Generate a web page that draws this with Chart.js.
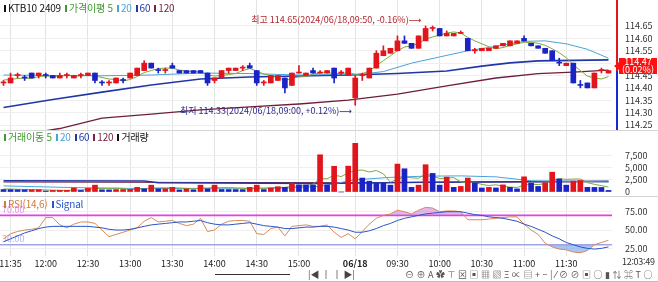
<!DOCTYPE html>
<html lang="ko"><head><meta charset="utf-8">
<script src="https://cdn.jsdelivr.net/npm/chart.js@4.4.1/dist/chart.umd.min.js"></script>
<style>
*{box-sizing:border-box}
html,body{margin:0;padding:0;background:#fff;}
#wrap{position:relative;width:658px;height:282px;overflow:hidden;background:#fff;font-family:"Noto Sans CJK KR","DejaVu Sans",sans-serif;}
canvas{position:absolute;left:0;}
.lg{position:absolute;left:0px;font-size:10px;line-height:12px;white-space:nowrap;letter-spacing:-0.2px}
.lg b{display:inline-block;width:2px;height:7px;margin:0 2px 0 4px;vertical-align:0px}
.sep{position:absolute;left:0;width:658px;height:1px;background:#d4d4d4}
.tb{position:absolute;top:269px;font-size:9px;line-height:12px;color:#444;white-space:nowrap}
</style></head><body>
<div id="wrap">
 <canvas id="cPrice" width="658" height="130" style="top:0;width:658px;height:130px"></canvas>
 <canvas id="cVol" width="658" height="66" style="top:130px;width:658px;height:66px"></canvas>
 <canvas id="cRsi" width="658" height="73" style="top:196px;width:658px;height:73px"></canvas>
 <div class="sep" style="top:130px"></div>
 <div class="sep" style="top:196px"></div>
 <div class="lg" style="top:2px"><b style="background:#111"></b><span style="color:#111">KTB10 2409</span><b style="background:#3f9a2e"></b><span style="color:#3f9a2e">가격이평 5</span><b style="background:#4aa3d8"></b><span style="color:#4aa3d8">20</span><b style="background:#2236a8"></b><span style="color:#2236a8">60</span><b style="background:#7a2245"></b><span style="color:#7a2245">120</span></div>
 <div class="lg" style="top:131px"><b style="background:#3f9a2e"></b><span style="color:#3f9a2e">거래이동 5</span><b style="background:#4aa3d8"></b><span style="color:#4aa3d8">20</span><b style="background:#2236a8"></b><span style="color:#2236a8">60</span><b style="background:#7a2245"></b><span style="color:#7a2245">120</span><b style="background:#111"></b><span style="color:#111">거래량</span></div>
 <div class="lg" style="top:198px"><b style="background:#d2783c"></b><span style="color:#d2783c">RSI(14,6)</span><b style="background:#2a55c8"></b><span style="color:#2a55c8">Signal</span></div>
 <div class="tb" style="left:622px;top:256px;color:#333;letter-spacing:-0.3px">12:03:49</div>
 <div style="position:absolute;left:215px;top:274px;width:75px;height:1px;background:#333"></div>
 <div class="tb" style="left:308px">|◀ ‖&nbsp;‖ ▶|</div>
 <div class="tb" style="left:405px;color:#555">⊖ ⊕ A ✿ ⊤ ⊠ ▣ ▦ ▧ Ξ ∝ ▤ + − | ⁄ ⊘ ⊘ ▣ ○ ▮ ⇅ ⌘ T ○</div>
 <div style="position:absolute;left:0;top:281px;width:658px;height:1px;background:#e6a6c8"></div>
</div>
<script>
// ---------- DATA ----------
const categories = [
"06/17 11:30","06/17 11:35","06/17 11:40","06/17 11:45","06/17 11:50","06/17 11:55","06/17 12:00","06/17 12:05","06/17 12:10","06/17 12:15",
"06/17 12:20","06/17 12:25","06/17 12:30","06/17 12:35","06/17 12:40","06/17 12:45","06/17 12:50","06/17 12:55","06/17 13:00","06/17 13:05",
"06/17 13:10","06/17 13:15","06/17 13:20","06/17 13:25","06/17 13:30","06/17 13:35","06/17 13:40","06/17 13:45","06/17 13:50","06/17 13:55",
"06/17 14:00","06/17 14:05","06/17 14:10","06/17 14:15","06/17 14:20","06/17 14:25","06/17 14:30","06/17 14:35","06/17 14:40","06/17 14:45",
"06/17 14:50","06/17 14:55","06/17 15:00","06/17 15:05","06/17 15:10","06/17 15:15","06/17 15:20","06/17 15:25","06/17 15:30","06/17 15:35",
"06/18 09:00","06/18 09:05","06/18 09:10","06/18 09:15","06/18 09:20","06/18 09:25","06/18 09:30","06/18 09:35","06/18 09:40","06/18 09:45",
"06/18 09:50","06/18 09:55","06/18 10:00","06/18 10:05","06/18 10:10","06/18 10:15","06/18 10:20","06/18 10:25","06/18 10:30","06/18 10:35",
"06/18 10:40","06/18 10:45","06/18 10:50","06/18 10:55","06/18 11:00","06/18 11:05","06/18 11:10","06/18 11:15","06/18 11:20","06/18 11:25",
"06/18 11:30","06/18 11:35","06/18 11:40","06/18 11:45","06/18 11:50","06/18 11:55","06/18 12:00"];

const xTickCats = ["06/17 11:35","06/17 12:00","06/17 12:30","06/17 13:00","06/17 13:30","06/17 14:00","06/17 14:30","06/17 15:00","06/18 09:00","06/18 09:30","06/18 10:00","06/18 10:30","06/18 11:00","06/18 11:30"];
const xTickText = ["11:35","12:00","12:30","13:00","13:30","14:00","14:30","15:00","06/18","09:30","10:00","10:30","11:00","11:30"];

const openP  = [114.42,114.42,114.45,114.44,114.46,114.45,114.45,114.45,114.44,114.45,114.44,114.45,114.45,114.46,114.42,114.42,114.42,114.43,114.44,114.45,
114.47,114.50,114.47,114.47,114.49,114.47,114.47,114.47,114.47,114.46,114.43,114.44,114.47,114.47,114.48,114.49,114.47,114.42,114.42,114.43,
114.44,114.41,114.46,114.45,114.47,114.46,114.46,114.48,114.46,114.45,
114.36,114.45,114.44,114.48,114.53,114.54,114.55,114.59,114.58,114.56,114.59,114.64,114.64,114.61,114.61,114.62,114.60,114.55,114.55,114.55,
114.56,114.57,114.57,114.58,114.60,114.58,114.57,114.56,114.55,114.50,114.49,114.50,114.41,114.42,114.40,114.47,114.46];
const highP  = [114.43,114.46,114.46,114.45,114.46,114.46,114.46,114.45,114.46,114.46,114.45,114.46,114.46,114.46,114.43,114.43,114.44,114.44,114.46,114.48,
114.51,114.50,114.48,114.48,114.50,114.47,114.47,114.47,114.47,114.46,114.44,114.47,114.48,114.48,114.49,114.50,114.47,114.43,114.45,114.45,
114.44,114.46,114.49,114.46,114.48,114.47,114.47,114.48,114.47,114.48,
114.45,114.46,114.48,114.55,114.57,114.56,114.61,114.61,114.58,114.61,114.65,114.65,114.64,114.63,114.62,114.63,114.60,114.56,114.56,114.56,
114.57,114.58,114.59,114.59,114.61,114.58,114.57,114.56,114.55,114.52,114.50,114.50,114.43,114.42,114.46,114.48,114.47];
const lowP   = [114.41,114.42,114.44,114.43,114.44,114.44,114.44,114.44,114.44,114.44,114.44,114.44,114.45,114.42,114.41,114.41,114.42,114.42,114.44,114.45,
114.47,114.48,114.46,114.46,114.48,114.46,114.46,114.46,114.46,114.41,114.42,114.44,114.46,114.47,114.47,114.48,114.41,114.41,114.42,114.43,
114.38,114.41,114.46,114.45,114.46,114.46,114.46,114.42,114.45,114.45,
114.33,114.43,114.44,114.48,114.53,114.54,114.55,114.58,114.56,114.56,114.59,114.63,114.61,114.61,114.61,114.62,114.55,114.54,114.55,114.55,
114.56,114.57,114.57,114.58,114.59,114.57,114.56,114.54,114.51,114.49,114.49,114.42,114.40,114.40,114.40,114.46,114.46];
const closeP = [114.42,114.44,114.45,114.44,114.44,114.46,114.45,114.44,114.45,114.45,114.45,114.45,114.46,114.43,114.42,114.42,114.44,114.43,114.46,114.48,
114.50,114.48,114.47,114.47,114.48,114.46,114.46,114.46,114.46,114.42,114.44,114.47,114.48,114.48,114.48,114.48,114.42,114.42,114.45,114.45,
114.40,114.46,114.46,114.46,114.46,114.46,114.47,114.44,114.46,114.48,
114.44,114.45,114.48,114.54,114.55,114.56,114.59,114.58,114.56,114.61,114.64,114.64,114.61,114.62,114.62,114.62,114.55,114.55,114.56,114.56,
114.57,114.58,114.59,114.59,114.59,114.57,114.56,114.54,114.51,114.50,114.50,114.42,114.41,114.40,114.46,114.47,114.47];

const priceMA5 = [114.432,114.434,114.438,114.44,114.438,114.446,114.448,114.446,114.448,114.45,
114.448,114.448,114.452,114.448,114.442,114.436,114.434,114.428,114.434,114.446,
114.462,114.47,114.478,114.48,114.48,114.472,114.468,114.466,114.464,114.452,
114.448,114.45,114.454,114.458,114.47,114.478,114.468,114.456,114.45,114.444,
114.428,114.44,114.444,114.446,114.456,114.46,114.462,114.458,114.458,114.462,
114.455,114.458,114.468,114.49,114.51,114.53,114.55,114.565,114.57,114.58,
114.596,114.606,114.613,114.622,114.626,114.622,114.604,114.59,114.578,114.566,
114.558,114.563,114.571,114.578,114.584,114.584,114.58,114.572,114.558,114.542,
114.522,114.494,114.47,114.448,114.44,114.436,114.446];
const N = null;
const priceMA20 = [114.452,N,N,N,N,N,N,114.450,N,N,N,N,N,N,114.449,N,N,N,N,N,N,114.452,N,N,N,N,N,N,114.460,N,N,N,N,N,N,114.458,N,N,N,N,N,N,114.452,N,N,N,N,N,N,114.455,
114.452,N,N,N,114.466,N,N,N,114.500,N,N,N,114.525,N,N,N,114.550,N,N,N,114.568,N,N,N,114.588,N,N,114.590,N,N,114.578,N,N,114.556,N,N,114.520];
const priceMA60 = [114.321,N,N,N,N,N,N,114.353,N,N,N,N,N,N,114.383,N,N,N,N,N,N,114.412,N,N,N,N,N,N,114.436,N,N,N,N,N,N,114.444,N,N,N,N,N,N,114.448,N,N,N,N,N,N,114.452,
N,N,N,N,N,N,114.458,N,N,N,N,N,N,114.468,N,N,N,N,114.488,N,N,N,114.501,N,N,N,114.509,N,N,N,N,114.511,N,N,N,N,114.513];
const priceMA120 = [114.200,N,N,N,N,N,N,N,114.236,N,N,N,N,N,114.278,N,N,N,N,N,N,114.294,N,N,N,N,N,N,114.311,N,N,N,N,N,N,114.323,N,N,N,N,N,N,114.335,N,N,N,N,N,N,114.351,
N,N,N,N,N,N,114.375,N,N,N,N,N,N,114.408,N,N,N,N,N,N,114.440,N,N,N,N,N,114.458,N,N,N,N,114.464,N,N,N,N,114.472];

const volume = [500,480,450,440,460,470,200,320,330,340,820,320,760,1400,450,440,500,510,520,950,
640,1400,630,650,950,440,640,440,1400,640,1400,520,510,500,490,950,1400,500,820,1080,
950,1780,1460,1450,1440,7620,1460,5270,0,5300,9970,2860,2220,1780,1770,1400,5720,4760,950,1400,
5590,3810,1400,3050,950,1140,2860,1900,820,950,830,1460,950,640,3110,1780,1140,1900,4060,2670,
1400,2220,2350,950,940,930,320];
const volMA5 = [620,590,560,520,470,460,420,380,350,330,400,420,500,720,740,750,780,720,480,590,
620,810,840,860,850,820,740,620,780,790,910,880,900,820,760,600,770,770,830,950,
950,1170,1220,1350,1600,2750,2700,3460,3160,3930,4400,4500,4100,4400,3720,2010,2590,3090,2920,2810,
3680,3300,2750,2850,2960,2070,1880,1970,1540,1330,1470,1210,1000,930,1400,1590,1520,1710,2400,2730,
2590,2650,2660,1920,1570,1300,1010];
const volMA20 = [1250,N,N,N,N,N,N,N,N,N,900,N,N,N,N,N,N,N,N,N,700,N,N,N,N,N,N,N,N,N,760,N,N,N,N,N,N,N,N,N,800,N,N,N,N,1150,N,N,N,N,
2500,N,N,N,N,3000,N,N,N,N,3250,N,N,N,N,3300,N,N,N,N,3100,N,N,N,N,2300,N,N,N,N,2200,N,N,N,N,N,2050];
const volMA60 = [2300,N,N,N,N,N,N,N,N,N,N,N,N,N,N,N,N,N,N,N,2250,N,1900,N,N,N,N,N,N,N,N,N,N,N,N,N,N,N,N,N,N,N,N,N,N,1750,N,N,N,N,
N,N,N,N,N,N,N,N,N,N,2000,N,N,N,N,N,N,N,N,N,N,N,N,N,N,N,N,N,N,N,N,N,N,N,N,N,2200];
const volMA120 = [2050,N,N,N,N,N,N,N,N,N,N,N,N,N,N,N,N,N,N,N,N,N,N,N,N,N,N,N,N,N,1950,N,N,N,N,N,N,N,N,N,N,N,N,N,N,N,N,N,N,N,
1900,N,N,N,N,N,N,N,N,N,N,N,N,N,N,N,N,N,N,N,2050,N,N,N,N,N,N,N,N,N,N,N,N,N,N,N,2100];

const rsi = [38,45,48,50,51,53,67,67,57,53,58,61,61,59,50,41,44,47,50,53,62,67,61,62,63,59,56,58,66,
48,50,58,62,63,63,62,45,44,52,54,42,55,56,57,55,55,57,47,40,45,
38,48,58,66,70,72,77,75,72,77,81,80,75,76,76,75,64,64,64,65,66,67,68,68,58,50,44,32,27,24,23,20,19,22,30,33,36];
const rsiSignal = [34,38,42,46,49,52,54,55,55,55,55,55,55,54,53,51,50,50,51,53,55,57,58,59,60,61,61,62,63,
60,58,57,57,58,59,60,58,56,55,54,52,52,53,54,54,55,55,54,52,50,
47,47,49,52,56,59,63,66,68,70,72,73,74,75,75,75,73,71,70,68,67,66,64,62,58,55,51,47,42,38,33,30,27,25,24,25,27];

const priceTicks = [114.25,114.30,114.35,114.40,114.45,114.50,114.55,114.60,114.65];
const volTicks = [0,2500,5000,7500];
const rsiTicks = [25,50,75];
const rsiBands = [70,30];
const changePct = "(0.02%)";
const hiNote = {year:"2024", pct:"-0.16%"};
const loNote = {year:"2024", pct:"+0.12%"};

// ---------- STYLE ----------
const RED = '#e2141c', BLUE = '#1a24c6';
const FONT = "'Noto Sans CJK KR','DejaVu Sans',sans-serif";
Chart.defaults.font.family = FONT;
Chart.defaults.font.size = 9;
Chart.defaults.color = '#333';

const tickIdx = xTickCats.map(c => categories.indexOf(c));
function xAxis(show){
  return {
    type:'category', offset:true,
    grid:{color:'#e4e4e4', offset:false, drawTicks:false},
    border:{display:false},
    ticks:{display:show, autoSkip:false, maxRotation:0, padding:2, color:'#222',
      font:(ctx)=> (ctx.tick && xTickText[tickIdx.indexOf(ctx.tick.value)]==='06/18') ? {size:9, weight:'bold'} : {size:9},
      callback:(v)=> xTickText[tickIdx.indexOf(v)] ?? ''},
    afterBuildTicks:(s)=>{ s.ticks = tickIdx.map(v=>({value:v})); },
    afterFit:(s)=>{ s.height = show ? 13 : 0; s.paddingLeft = 0; s.paddingRight = 0; }
  };
}
function yAxis(min,max,ticks,fmt){
  return {
    position:'right', min:min, max:max,
    grid:{color:'#efefef', drawTicks:false}, border:{display:false},
    ticks:{padding:13, color:'#333', font:{size:9}, callback:fmt},
    afterBuildTicks:(s)=>{ s.ticks = ticks.map(v=>({value:v})); },
    afterFit:(s)=>{ s.width = 46; s.paddingTop = 0; s.paddingBottom = 0; }
  };
}
function base(){
  return {responsive:false, animation:false, devicePixelRatio:1, events:[],
    layout:{padding:0}, plugins:{legend:{display:false}, tooltip:{enabled:false}}};
}
const lineDs = (data,color,w,order)=>({type:'line', data, borderColor:color, borderWidth:w, pointRadius:0, tension:0, spanGaps:true, fill:false, order});

// ---------- PRICE ----------
const candleColor = closeP.map((c,i)=> c>openP[i] ? RED : c<openP[i] ? BLUE : (i>0 && c<closeP[i-1] ? BLUE : RED));
const pricePlugin = {
  id:'priceDeco',
  afterDatasetsDraw(chart){
    const {ctx, chartArea:a, scales:{x,y}} = chart;
    ctx.save();
    const hi = Math.max(...highP), hiI = highP.indexOf(hi);
    const lo = Math.min(...lowP), loI = lowP.indexOf(lo);
    const fmtDate = (i,yr)=> yr + '/' + categories[i].replace(' ', ',');
    ctx.font = "9px " + FONT; ctx.textAlign='right'; ctx.textBaseline='middle';
    ctx.fillStyle = '#b2262e';
    ctx.fillText('최고 ' + hi.toFixed(2) + '(' + fmtDate(hiI,hiNote.year) + ', ' + hiNote.pct + ')⟶', x.getPixelForValue(hiI)-4, y.getPixelForValue(hi)-6);
    ctx.fillStyle = '#2a2a8c';
    ctx.fillText('최저 ' + lo.toFixed(2) + '(' + fmtDate(loI,loNote.year) + ', ' + loNote.pct + ')⟶', x.getPixelForValue(loI)-3, y.getPixelForValue(lo)+5);
    const last = closeP[closeP.length-1];
    const py = Math.round(y.getPixelForValue(last));
    const lx = a.right + 4;
    ctx.fillStyle = RED; ctx.fillRect(lx, a.top, 2, py - a.top);
    ctx.fillStyle = '#1a2ad0'; ctx.fillRect(lx, py, 2, a.bottom - py);
    ctx.fillStyle = '#ff1010';
    ctx.fillRect(lx+3, py-13, 38, 16);
    ctx.beginPath(); ctx.moveTo(lx-2, py-5); ctx.lineTo(lx+3, py-9); ctx.lineTo(lx+3, py-1); ctx.closePath(); ctx.fill();
    ctx.fillStyle = '#fff'; ctx.textAlign='center'; ctx.font = "9px " + FONT;
    ctx.fillText(last.toFixed(2), lx+22, py-9);
    ctx.fillText(changePct, lx+22, py-1);
    ctx.restore();
  }
};
new Chart(document.getElementById('cPrice'), {
  type:'bar',
  data:{labels:categories, datasets:[
    lineDs(priceMA120,'#6e1e3c',1.3,6),
    lineDs(priceMA60,'#2236a8',1.6,5),
    lineDs(priceMA20,'#4aa3d8',1,4),
    lineDs(priceMA5,'#7fa83a',1,3),
    {data: lowP.map((l,i)=>[l,highP[i]]), backgroundColor:candleColor, barThickness:1, grouped:false, order:1},
    {data: openP.map((o,i)=>[o,closeP[i]]), backgroundColor:candleColor, barThickness:5, minBarLength:1, grouped:false, order:0}
  ]},
  options:Object.assign(base(), {scales:{x:xAxis(false), y:yAxis(114.23,114.755,priceTicks,v=>Number(v).toFixed(2))}}),
  plugins:[pricePlugin]
});

// ---------- VOLUME ----------
const volColor = volume.map((v,i)=> (i>0 && v>volume[i-1]) ? RED : BLUE);
new Chart(document.getElementById('cVol'), {
  type:'bar',
  data:{labels:categories, datasets:[
    lineDs(volMA120,'#6e1e3c',1,6),
    lineDs(volMA60,'#2236a8',1.4,5),
    lineDs(volMA20,'#4aa3d8',1,4),
    lineDs(volMA5,'#7fa83a',1,3),
    {data:volume, backgroundColor:volColor, barThickness:5, order:1}
  ]},
  options:Object.assign(base(), {scales:{x:xAxis(false), y:yAxis(-820,12700,volTicks,v=>Number(v).toLocaleString('en-US'))}})
});

// ---------- RSI ----------
const rsiPlugin = {
  id:'rsiDeco',
  beforeDatasetsDraw(chart){
    const {ctx, chartArea:a, scales:{y}} = chart;
    const cols = ['#e43ce4','#a8a4e6'];
    ctx.save();
    rsiBands.forEach((b,k)=>{
      const py = y.getPixelForValue(b);
      ctx.strokeStyle = cols[k]; ctx.lineWidth = 1.6;
      ctx.beginPath(); ctx.moveTo(a.left, py); ctx.lineTo(a.right, py); ctx.stroke();
      ctx.fillStyle = k===0 ? '#e890e8' : '#b6b2ec';
      ctx.font = "9px " + FONT; ctx.textAlign='left'; ctx.textBaseline='middle';
      ctx.fillText(b.toFixed(2), a.left+2, py-6);
    });
    ctx.restore();
  }
};
new Chart(document.getElementById('cRsi'), {
  type:'line',
  data:{labels:categories, datasets:[
    {data:rsi, borderColor:'rgba(0,0,0,0)', borderWidth:0, pointRadius:0, tension:0,
      fill:{target:{value:rsiBands[1]}, above:'rgba(0,0,0,0)', below:'rgba(110,160,235,0.6)'}, order:4},
    {data:rsi, borderColor:'#d98a56', borderWidth:1, pointRadius:0, tension:0,
      fill:{target:{value:rsiBands[0]}, above:'rgba(210,130,225,0.6)', below:'rgba(0,0,0,0)'}, order:2},
    {data:rsiSignal, borderColor:'#2a55c8', borderWidth:1, pointRadius:0, tension:0, fill:false, order:1}
  ]},
  options:Object.assign(base(), {scales:{x:xAxis(true), y:yAxis(14.6,96.4,rsiTicks,v=>Number(v).toFixed(2))}}),
  plugins:[rsiPlugin]
});
</script>
</body></html>
